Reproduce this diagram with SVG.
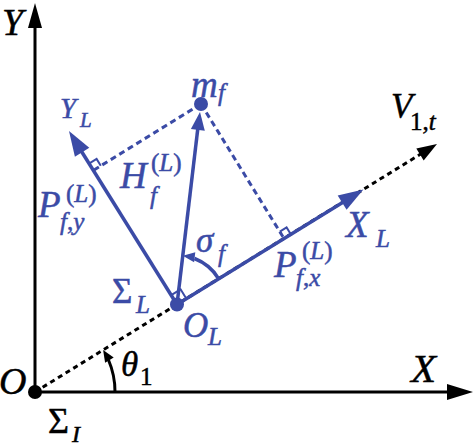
<svg xmlns="http://www.w3.org/2000/svg" width="474" height="444" viewBox="0 0 474 444">
<style>
.k{stroke:#000;fill:none;stroke-width:3}
.b{stroke:#3b4ba6;fill:none;stroke-width:3.5}
.bd{stroke:#3b4ba6;fill:none;stroke-width:3;stroke-dasharray:6 4}
.kd{stroke:#000;fill:none;stroke-width:3;stroke-dasharray:5 4}
.bt{stroke:#3b4ba6;fill:none;stroke-width:2}
.kf{fill:#000}
.bf{fill:#3b4ba6}
text{font-family:"Liberation Serif","Times New Roman",serif;stroke-width:0.5}
.i{font-style:italic}
.tk{fill:#000;stroke:#000}
.tb{fill:#3b4ba6;stroke:#3b4ba6}
</style>
<rect width="474" height="444" fill="#fff"/>
<g id="connectors">
  <line class="k" x1="35" y1="392" x2="35" y2="22"/>
  <polygon class="kf" points="35,3 28,28 42,28"/>
  <line class="k" x1="35" y1="392" x2="452" y2="392"/>
  <polygon class="kf" points="473,392 447,384 447,400"/>
  <line class="kd" x1="35" y1="392" x2="424" y2="152"/>
  <polygon class="kf" points="437,144 416.3,148.5 423.7,160.5"/>
  <path class="k" stroke-width="2.5" d="M115,392 A80,80 0 0 0 108.5,360"/>
  <polygon class="kf" points="103.1,350 113.7,357.6 105.1,362.8"/>
  <line class="b" x1="177" y1="304.5" x2="345" y2="201"/>
  <polygon class="bf" points="363.4,189.5 337.7,195.4 346.6,209.8"/>
  <line class="b" x1="177" y1="304.5" x2="80" y2="149"/>
  <polygon class="bf" points="69,131 89.3,147.8 74.9,156.8"/>
  <line class="b" x1="177" y1="304.5" x2="198" y2="127"/>
  <polygon class="bf" points="200,112 204.8,130.7 190.9,129.1"/>
  <line class="bd" x1="201" y1="104" x2="94" y2="170"/>
  <line class="bd" x1="201" y1="104" x2="284" y2="238.5"/>
  <polyline class="bt" points="89.8,163.2 96.6,159 100.8,165.8"/>
  <polyline class="bt" points="290.8,234.3 286.6,227.5 279.8,231.7"/>
  <polyline class="bt" points="171.2,295.1 180.6,289.3 186.4,298.7"/>
  <path class="b" stroke-width="3" d="M218.7,278.8 A49,49 0 0 0 194.5,258.5"/>
  <polygon class="bf" points="182.8,255.8 195.3,252.2 194.1,262.2"/>
</g>
<g id="origin">
  <circle class="kf" cx="35" cy="392" r="7"/>
  <text class="tk i" x="-1" y="394" font-size="38">O</text>
  <text class="tk" x="48" y="433" font-size="36">Σ</text>
  <text class="tk i" x="72" y="442" font-size="24">I</text>
</g>
<g id="axis-y"><text class="tk i" x="2" y="35" font-size="38">Y</text></g>
<g id="axis-x"><text class="tk i" x="411" y="382" font-size="41">X</text></g>
<g id="theta">
  <text class="tk i" x="121" y="376" font-size="35">θ</text>
  <text class="tk" x="140" y="385" font-size="25">1</text>
</g>
<g id="v1t">
  <text class="tk i" x="391" y="118" font-size="35">V</text>
  <text class="tk" x="410" y="130" font-size="25">1,<tspan class="i">t</tspan></text>
</g>
<g id="OL">
  <circle class="bf" cx="177" cy="304.5" r="7"/>
  <text class="tb i" x="183" y="337" font-size="35">O</text>
  <text class="tb i" x="208" y="345" font-size="25">L</text>
  <text class="tb" x="112" y="303" font-size="35">Σ</text>
  <text class="tb i" x="136" y="313" font-size="25">L</text>
</g>
<g id="mf">
  <circle class="bf" cx="201" cy="104" r="7"/>
  <text class="tb i" x="191" y="97" font-size="37">m</text>
  <text class="tb i" x="218" y="101" font-size="25">f</text>
</g>
<g id="YL">
  <text class="tb i" x="60" y="118" font-size="29">Y</text>
  <text class="tb i" x="80" y="127" font-size="21">L</text>
</g>
<g id="XL">
  <text class="tb i" x="346" y="237" font-size="37">X</text>
  <text class="tb i" x="376" y="247" font-size="25">L</text>
</g>
<g id="Hf">
  <text class="tb i" x="120" y="188" font-size="37">H</text>
  <text class="tb" x="151" y="171" font-size="25">(<tspan class="i">L</tspan>)</text>
  <text class="tb i" x="150" y="204" font-size="25">f</text>
</g>
<g id="Pfy">
  <text class="tb i" x="38" y="217" font-size="37">P</text>
  <text class="tb" x="66" y="202" font-size="25">(<tspan class="i">L</tspan>)</text>
  <text class="tb i" x="60" y="230" font-size="25">f<tspan font-style="normal">,</tspan>y</text>
</g>
<g id="Pfx">
  <text class="tb i" x="274" y="277" font-size="37">P</text>
  <text class="tb" x="302" y="259" font-size="25">(<tspan class="i">L</tspan>)</text>
  <text class="tb i" x="296" y="286" font-size="25">f<tspan font-style="normal">,</tspan>x</text>
</g>
<g id="sigma">
  <text class="tb i" x="196" y="252" font-size="35">σ</text>
  <text class="tb i" x="218" y="262" font-size="25">f</text>
</g>
</svg>
